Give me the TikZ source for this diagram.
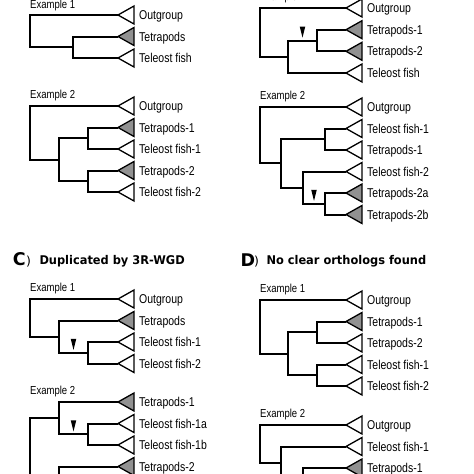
\documentclass[tikz,border=0pt]{standalone}
\usepackage{fontspec}
\setmainfont{Liberation Sans}
\newfontfamily\labfont[FakeStretch=0.82]{Liberation Sans}
\newfontfamily\ttlfont[FakeStretch=0.95]{DejaVu Sans}
\newfontfamily\bigfont{DejaVu Sans}
\definecolor{leafgray}{RGB}{145,145,145}
\tikzset{
  br/.style={line width=2pt},
  tri/.style={line width=1.3pt, line join=miter},
  lab/.style={anchor=base west, inner sep=0pt, font=\labfont\fontsize{12.8}{14}\selectfont},
  exl/.style={anchor=base west, inner sep=0pt, font=\labfont\fontsize{11.6}{13}\selectfont},
  bigl/.style={anchor=base west, inner sep=0pt, font=\bigfont\bfseries\fontsize{17.5}{20}\selectfont},
  par/.style={anchor=base west, inner sep=0pt, font=\bigfont\fontsize{12.5}{14}\selectfont},
  ttl/.style={anchor=base west, inner sep=0pt, font=\ttlfont\bfseries\fontsize{12}{14}\selectfont},
}
% leaf: name, x, y, fill, label
\newcommand\myleaf[5]{%
  \coordinate (#1) at (#2,#3);
  \filldraw[tri,fill=#4] (#1) -- ++(16,-9) -- ++(0,18) -- cycle;
  \node[lab] (#1-t) at (#2+21,#3+4.6) {#5};
}
% duplication marker above a branch: name of coordinate on branch
\newcommand\dupmark[1]{%
  \fill (#1) ++(-2.8,-14) -- ++(5.6,0) -- ++(-2.8,11) -- cycle;
}
\begin{document}
\begin{tikzpicture}[x=1pt,y=-1pt]
\useasboundingbox (0,0) rectangle (474,474);
\fill[white] (0,0) rectangle (474,474);
\clip (0,0) rectangle (474,474);

%%%%% Panel A
\node[exl] (aE1) at (30,8.4) {Example 1};
\myleaf{aO}{118}{15}{white}{Outgroup}
\myleaf{aT}{118}{36.5}{leafgray}{Tetrapods}
\myleaf{aF}{118}{58}{white}{Teleost fish}
\coordinate (aN) at (73,47.25);
\coordinate (aR) at (30,31.125);
\draw[br] (aN) |- (aT); \draw[br] (aN) |- (aF);
\draw[br] (aR) |- (aO); \draw[br] (aR) |- (aN);

\node[exl] (bE2) at (30,98) {Example 2};
\myleaf{bO}{118}{106}{white}{Outgroup}
\myleaf{bT1}{118}{127.5}{leafgray}{Tetrapods-1}
\myleaf{bF1}{118}{149}{white}{Teleost fish-1}
\myleaf{bT2}{118}{170.5}{leafgray}{Tetrapods-2}
\myleaf{bF2}{118}{192}{white}{Teleost fish-2}
\coordinate (bN1) at (88,138.25);
\coordinate (bN2) at (88,181.25);
\coordinate (bN3) at (59,159.75);
\coordinate (bR) at (30,132.875);
\draw[br] (bN1) |- (bT1); \draw[br] (bN1) |- (bF1);
\draw[br] (bN2) |- (bT2); \draw[br] (bN2) |- (bF2);
\draw[br] (bN3) |- (bN1); \draw[br] (bN3) |- (bN2);
\draw[br] (bR) |- (bO); \draw[br] (bR) |- (bN3);

%%%%% Panel B
\node[exl] (cE1) at (260,0.8) {Example 1};
\myleaf{cO}{346}{8}{white}{Outgroup}
\myleaf{cT1}{346}{29.7}{leafgray}{Tetrapods-1}
\myleaf{cT2}{346}{51.3}{leafgray}{Tetrapods-2}
\myleaf{cF}{346}{73}{white}{Teleost fish}
\coordinate (cN1) at (317,40.5);
\coordinate (cN2) at (288,56.75);
\coordinate (cR) at (260,32.375);
\draw[br] (cN1) |- (cT1); \draw[br] (cN1) |- (cT2);
\draw[br] (cN2) |- (cN1); \draw[br] (cN2) |- (cF);
\draw[br] (cR) |- (cO); \draw[br] (cR) |- (cN2);
\coordinate (cD) at (302.5,40.5);
\dupmark{cD}

\node[exl] (dE2) at (260,99) {Example 2};
\myleaf{dO}{346}{107}{white}{Outgroup}
\myleaf{dF1}{346}{128.5}{white}{Teleost fish-1}
\myleaf{dT1}{346}{150}{white}{Tetrapods-1}
\myleaf{dF2}{346}{171.5}{white}{Teleost fish-2}
\myleaf{dT2a}{346}{193}{leafgray}{Tetrapods-2a}
\myleaf{dT2b}{346}{214.5}{leafgray}{Tetrapods-2b}
\coordinate (dN1) at (325,139.25);
\coordinate (dN3) at (325,203.75);
\coordinate (dN2) at (303,187.625);
\coordinate (dN4) at (281,163.4375);
\coordinate (dR) at (260,135.22);
\draw[br] (dN1) |- (dF1); \draw[br] (dN1) |- (dT1);
\draw[br] (dN3) |- (dT2a); \draw[br] (dN3) |- (dT2b);
\draw[br] (dN2) |- (dF2); \draw[br] (dN2) |- (dN3);
\draw[br] (dN4) |- (dN1); \draw[br] (dN4) |- (dN2);
\draw[br] (dR) |- (dO); \draw[br] (dR) |- (dN4);
\coordinate (dD) at (314,203.75);
\dupmark{dD}

%%%%% Panel C
\node[bigl] (tC) at (12.7,265.7) {C};
\node[par] (tCp) at (26,265.5) {)};
\node[ttl] (tCt) at (39.3,264.5) {Duplicated by 3R-WGD};

\node[exl] (eE1) at (30,291.5) {Example 1};
\myleaf{eO}{118}{299}{white}{Outgroup}
\myleaf{eT}{118}{320.5}{leafgray}{Tetrapods}
\myleaf{eF1}{118}{342}{white}{Teleost fish-1}
\myleaf{eF2}{118}{363.5}{white}{Teleost fish-2}
\coordinate (eN1) at (88,352.75);
\coordinate (eN2) at (59,336.625);
\coordinate (eR) at (30,317.8);
\draw[br] (eN1) |- (eF1); \draw[br] (eN1) |- (eF2);
\draw[br] (eN2) |- (eT); \draw[br] (eN2) |- (eN1);
\draw[br] (eR) |- (eO); \draw[br] (eR) |- (eN2);
\coordinate (eD) at (73.5,352.75);
\dupmark{eD}

\node[exl] (fE2) at (30,394.5) {Example 2};
\myleaf{fT1}{118}{402}{leafgray}{Tetrapods-1}
\myleaf{fF1a}{118}{423.5}{white}{Teleost fish-1a}
\myleaf{fF1b}{118}{445}{white}{Teleost fish-1b}
\myleaf{fT2}{118}{466.5}{leafgray}{Tetrapods-2}
\coordinate (fN1) at (88,434.25);
\coordinate (fN2) at (59,418.125);
\coordinate (fN3) at (59,500);
\coordinate (fR) at (30,459);
\draw[br] (fN1) |- (fF1a); \draw[br] (fN1) |- (fF1b);
\draw[br] (fN2) |- (fT1); \draw[br] (fN2) |- (fN1);
\draw[br] (fN3) |- (fT2);
\draw[br] (fR) |- (fN2); \draw[br] (fR) |- (fN3);
\coordinate (fD) at (73.5,434.25);
\dupmark{fD}

%%%%% Panel D
\node[bigl] (tD) at (240.3,266.3) {D};
\node[par] (tDp) at (254,265.5) {)};
\node[ttl] (tDt) at (266.3,264.3) {No clear orthologs found};

\node[exl] (gE1) at (260,292) {Example 1};
\myleaf{gO}{346}{300}{white}{Outgroup}
\myleaf{gT1}{346}{321.5}{leafgray}{Tetrapods-1}
\myleaf{gT2}{346}{343}{white}{Tetrapods-2}
\myleaf{gF1}{346}{364.5}{white}{Teleost fish-1}
\myleaf{gF2}{346}{386}{white}{Teleost fish-2}
\coordinate (gN1) at (317,332.25);
\coordinate (gN2) at (317,375.25);
\coordinate (gN3) at (288,353.75);
\coordinate (gR) at (260,326.875);
\draw[br] (gN1) |- (gT1); \draw[br] (gN1) |- (gT2);
\draw[br] (gN2) |- (gF1); \draw[br] (gN2) |- (gF2);
\draw[br] (gN3) |- (gN1); \draw[br] (gN3) |- (gN2);
\draw[br] (gR) |- (gO); \draw[br] (gR) |- (gN3);

\node[exl] (hE2) at (260,417) {Example 2};
\myleaf{hO}{346}{425}{white}{Outgroup}
\myleaf{hF1}{346}{446.5}{white}{Teleost fish-1}
\myleaf{hT1}{346}{468}{leafgray}{Tetrapods-1}
\coordinate (hN3) at (303,479.5);
\coordinate (hN2) at (281,463);
\coordinate (hR) at (260,444);
\draw[br] (hN3) |- (hT1);
\draw[br] (hN2) |- (hF1); \draw[br] (hN2) |- (hN3);
\draw[br] (hR) |- (hO); \draw[br] (hR) |- (hN2);
\end{tikzpicture}
\end{document}
